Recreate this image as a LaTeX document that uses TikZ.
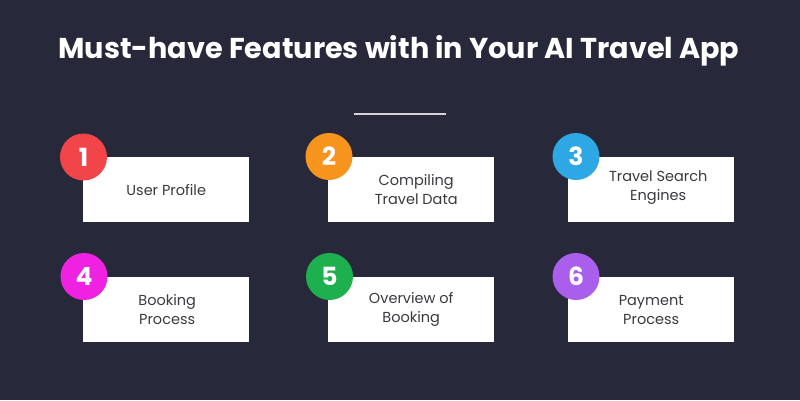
\documentclass[tikz,border=0pt]{standalone}
\usepackage{fontspec}
\setmainfont{Poppins}
\usetikzlibrary{calc}
\begin{document}
\begin{tikzpicture}[x=1pt,y=-1pt,
  feat/.style={fill=white,draw=none,minimum width=166pt,minimum height=65pt,inner sep=0pt,anchor=north west},
  lbl/.style={text=txtgray,font=\fontsize{14.5}{19}\selectfont,align=center},
  num/.style={circle,minimum size=47pt,inner sep=0pt,text=white,font=\fontsize{25}{25}\bfseries\selectfont}]
\definecolor{bg}{HTML}{272839}
\definecolor{txtgray}{HTML}{3A3A3F}
\definecolor{cred}{HTML}{F2454A}
\definecolor{corange}{HTML}{F7941D}
\definecolor{cblue}{HTML}{2EA8E5}
\definecolor{cmag}{HTML}{EE22E0}
\definecolor{cgreen}{HTML}{1EAF4E}
\definecolor{cpurple}{HTML}{A95EEC}
\fill[bg] (0,0) rectangle (800,400);
\useasboundingbox (0,0) rectangle (800,400);
\node[text=white,font=\fontsize{28.7}{30}\bfseries\selectfont] (title) at (399,51) {Must-have Features with in Your AI Travel App};
\coordinate (la) at (354,114);
\coordinate (lb) at (446,114);
\draw[line width=1.5pt,color=white!80!bg] (la) -- (lb);
% boxes
\node[feat] (b1) at (83,157) {};
\node[feat] (b2) at (328,157) {};
\node[feat] (b3) at (568,157) {};
\node[feat] (b4) at (83,277) {};
\node[feat] (b5) at (328,277) {};
\node[feat] (b6) at (568,277) {};
% labels
\node[lbl] (t1) at ($(b1.center)+(0,0)$) {User Profile};
\node[lbl] (t2) at ($(b2.center)+(5,0)$) {Compiling\\Travel Data};
\node[lbl] (t3) at ($(b3.center)+(7,-2)$) {Travel Search\\Engines};
\node[lbl] (t4) at ($(b4.center)+(1,0)$) {Booking\\Process};
\node[lbl] (t5) at ($(b5.center)+(0,0)$) {Overview of\\Booking};
\node[lbl] (t6) at ($(b6.center)+(0,0)$) {Payment\\Process};
% circles
\node[num,fill=cred] (n1) at (83.5,157) {1};
\node[num,fill=corange] (n2) at (329,156.5) {2};
\node[num,fill=cblue] (n3) at (576,156.5) {3};
\node[num,fill=cmag] (n4) at (84,276.5) {4};
\node[num,fill=cgreen] (n5) at (329.5,276.5) {5};
\node[num,fill=cpurple] (n6) at (576,276.5) {6};
\end{tikzpicture}
\end{document}
